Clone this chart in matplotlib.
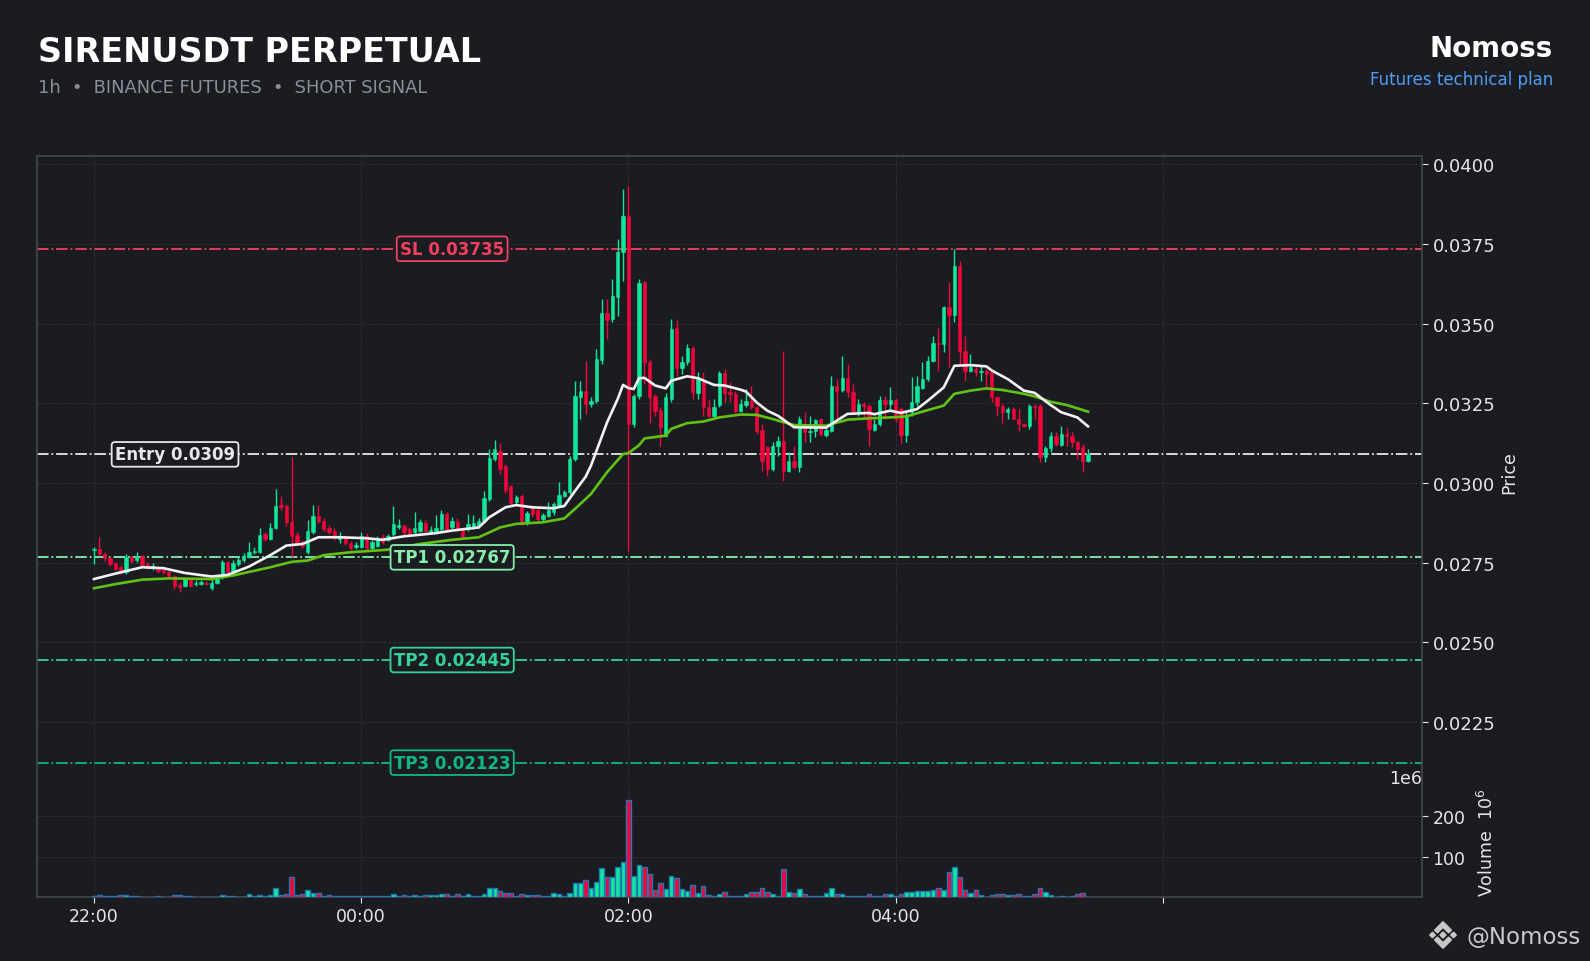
import numpy as np
import pandas as pd
import matplotlib
matplotlib.use('Agg')
import matplotlib.pyplot as plt
import matplotlib.dates as mdates
import matplotlib.ticker as mticker
from matplotlib.patches import Polygon

# ============================================
# Data
# ============================================
open_ = [
    0.02789, 0.02793, 0.02778, 0.02765, 0.02749, 0.02737, 0.02722, 0.02767, 0.02760, 0.02770,
    0.02746, 0.02734, 0.02732, 0.02726, 0.02722, 0.02710, 0.02680, 0.02678, 0.02699, 0.02682,
    0.02683, 0.02688, 0.02672, 0.02687, 0.02704, 0.02751, 0.02722, 0.02745, 0.02758, 0.02768,
    0.02783, 0.02783, 0.02840, 0.02825, 0.02858, 0.02931, 0.02927, 0.02877, 0.02837, 0.02816,
    0.02783, 0.02845, 0.02896, 0.02882, 0.02858, 0.02851, 0.02825, 0.02832, 0.02812, 0.02798,
    0.02798, 0.02835, 0.02795, 0.02804, 0.02830, 0.02822, 0.02840, 0.02861, 0.02866, 0.02856,
    0.02845, 0.02851, 0.02875, 0.02845, 0.02851, 0.02856, 0.02903, 0.02861, 0.02879, 0.02851,
    0.02856, 0.02861, 0.02864, 0.02882, 0.02950, 0.03076, 0.03102, 0.03055, 0.02992, 0.02940,
    0.02958, 0.02875, 0.02924, 0.02917, 0.02887, 0.02898, 0.02908, 0.02929, 0.02960, 0.02971,
    0.03075, 0.03269, 0.03290, 0.03248, 0.03259, 0.03387, 0.03533, 0.03515, 0.03583, 0.03724,
    0.03839, 0.03185, 0.03274, 0.03630, 0.03381, 0.03274, 0.03230, 0.03149, 0.03264, 0.03485,
    0.03360, 0.03379, 0.03423, 0.03283, 0.03316, 0.03240, 0.03211, 0.03245, 0.03346, 0.03285,
    0.03280, 0.03227, 0.03246, 0.03259, 0.03238, 0.03167, 0.03112, 0.03044, 0.03115, 0.03133,
    0.03039, 0.03070, 0.03049, 0.03170, 0.03159, 0.03164, 0.03201, 0.03151, 0.03164, 0.03306,
    0.03292, 0.03329, 0.03285, 0.03224, 0.03248, 0.03243, 0.03167, 0.03185, 0.03262, 0.03248,
    0.03262, 0.03232, 0.03151, 0.03222, 0.03253, 0.03298, 0.03326, 0.03384, 0.03439, 0.03436,
    0.03551, 0.03527, 0.03682, 0.03415, 0.03350, 0.03358, 0.03348, 0.03353, 0.03348, 0.03269,
    0.03243, 0.03222, 0.03232, 0.03201, 0.03185, 0.03180, 0.03243, 0.03243, 0.03081, 0.03109,
    0.03149, 0.03120, 0.03154, 0.03149, 0.03128, 0.03112, 0.03070,
]
high = [
    0.02798, 0.02830, 0.02783, 0.02770, 0.02752, 0.02742, 0.02777, 0.02772, 0.02783, 0.02775,
    0.02752, 0.02748, 0.02738, 0.02732, 0.02725, 0.02712, 0.02690, 0.02705, 0.02705, 0.02695,
    0.02697, 0.02693, 0.02698, 0.02708, 0.02760, 0.02756, 0.02760, 0.02770, 0.02780, 0.02815,
    0.02800, 0.02860, 0.02845, 0.02875, 0.02981, 0.02960, 0.02935, 0.03083, 0.02845, 0.02822,
    0.02885, 0.02930, 0.02930, 0.02890, 0.02868, 0.02858, 0.02848, 0.02838, 0.02818, 0.02815,
    0.02848, 0.02842, 0.02822, 0.02835, 0.02840, 0.02840, 0.02927, 0.02887, 0.02872, 0.02862,
    0.02908, 0.02888, 0.02885, 0.02865, 0.02900, 0.02915, 0.02910, 0.02895, 0.02890, 0.02860,
    0.02903, 0.02900, 0.02890, 0.02975, 0.03107, 0.03136, 0.03126, 0.03060, 0.02995, 0.02962,
    0.02965, 0.02912, 0.02930, 0.02922, 0.02905, 0.02940, 0.02940, 0.03002, 0.02978, 0.03085,
    0.03321, 0.03321, 0.03384, 0.03270, 0.03420, 0.03577, 0.03577, 0.03640, 0.03766, 0.03923,
    0.03933, 0.03278, 0.03640, 0.03635, 0.03390, 0.03280, 0.03240, 0.03284, 0.03515, 0.03510,
    0.03400, 0.03436, 0.03430, 0.03347, 0.03347, 0.03264, 0.03264, 0.03350, 0.03358, 0.03316,
    0.03290, 0.03264, 0.03295, 0.03306, 0.03243, 0.03185, 0.03115, 0.03128, 0.03149, 0.03415,
    0.03096, 0.03117, 0.03210, 0.03222, 0.03211, 0.03201, 0.03205, 0.03172, 0.03336, 0.03326,
    0.03400, 0.03374, 0.03311, 0.03264, 0.03253, 0.03248, 0.03201, 0.03274, 0.03274, 0.03300,
    0.03268, 0.03240, 0.03227, 0.03332, 0.03336, 0.03379, 0.03400, 0.03462, 0.03488, 0.03556,
    0.03630, 0.03734, 0.03698, 0.03462, 0.03405, 0.03374, 0.03368, 0.03358, 0.03352, 0.03274,
    0.03248, 0.03238, 0.03238, 0.03232, 0.03190, 0.03248, 0.03248, 0.03248, 0.03115, 0.03159,
    0.03159, 0.03180, 0.03172, 0.03159, 0.03133, 0.03123, 0.03107,
]
low = [
    0.02746, 0.02775, 0.02757, 0.02741, 0.02727, 0.02716, 0.02715, 0.02750, 0.02751, 0.02740,
    0.02730, 0.02726, 0.02719, 0.02715, 0.02705, 0.02667, 0.02657, 0.02675, 0.02673, 0.02678,
    0.02680, 0.02679, 0.02665, 0.02683, 0.02700, 0.02718, 0.02718, 0.02740, 0.02752, 0.02765,
    0.02778, 0.02780, 0.02818, 0.02820, 0.02855, 0.02915, 0.02866, 0.02767, 0.02805, 0.02795,
    0.02778, 0.02840, 0.02875, 0.02850, 0.02840, 0.02822, 0.02812, 0.02805, 0.02790, 0.02792,
    0.02795, 0.02790, 0.02790, 0.02800, 0.02808, 0.02818, 0.02835, 0.02855, 0.02838, 0.02835,
    0.02840, 0.02846, 0.02845, 0.02840, 0.02846, 0.02850, 0.02850, 0.02856, 0.02850, 0.02825,
    0.02850, 0.02856, 0.02860, 0.02878, 0.02945, 0.03070, 0.03030, 0.02970, 0.02930, 0.02935,
    0.02870, 0.02868, 0.02895, 0.02880, 0.02880, 0.02893, 0.02900, 0.02925, 0.02955, 0.02965,
    0.03070, 0.03201, 0.03217, 0.03240, 0.03250, 0.03374, 0.03452, 0.03505, 0.03525, 0.03635,
    0.02788, 0.03175, 0.03265, 0.03310, 0.03190, 0.03211, 0.03117, 0.03143, 0.03255, 0.03337,
    0.03342, 0.03370, 0.03264, 0.03264, 0.03211, 0.03206, 0.03206, 0.03240, 0.03253, 0.03253,
    0.03220, 0.03222, 0.03238, 0.03232, 0.03154, 0.03039, 0.03023, 0.03039, 0.03086, 0.03008,
    0.03034, 0.03044, 0.03034, 0.03128, 0.03128, 0.03143, 0.03149, 0.03146, 0.03160, 0.03191,
    0.03285, 0.03269, 0.03222, 0.03211, 0.03201, 0.03117, 0.03164, 0.03180, 0.03201, 0.03232,
    0.03191, 0.03123, 0.03128, 0.03211, 0.03243, 0.03295, 0.03321, 0.03379, 0.03353, 0.03410,
    0.03363, 0.03504, 0.03374, 0.03321, 0.03348, 0.03337, 0.03321, 0.03295, 0.03253, 0.03211,
    0.03185, 0.03201, 0.03201, 0.03164, 0.03175, 0.03170, 0.03201, 0.03065, 0.03065, 0.03096,
    0.03117, 0.03117, 0.03117, 0.03112, 0.03076, 0.03034, 0.03065,
]
close = [
    0.02792, 0.02778, 0.02765, 0.02747, 0.02731, 0.02724, 0.02767, 0.02757, 0.02770, 0.02744,
    0.02736, 0.02740, 0.02724, 0.02721, 0.02709, 0.02676, 0.02673, 0.02698, 0.02677, 0.02686,
    0.02690, 0.02684, 0.02687, 0.02704, 0.02751, 0.02722, 0.02748, 0.02760, 0.02770, 0.02785,
    0.02788, 0.02837, 0.02825, 0.02858, 0.02927, 0.02924, 0.02877, 0.02835, 0.02812, 0.02804,
    0.02851, 0.02896, 0.02882, 0.02856, 0.02845, 0.02830, 0.02835, 0.02812, 0.02795, 0.02806,
    0.02833, 0.02795, 0.02814, 0.02825, 0.02814, 0.02833, 0.02872, 0.02868, 0.02845, 0.02840,
    0.02858, 0.02877, 0.02851, 0.02854, 0.02858, 0.02903, 0.02856, 0.02882, 0.02856, 0.02830,
    0.02872, 0.02875, 0.02882, 0.02952, 0.03078, 0.03107, 0.03044, 0.02979, 0.02937, 0.02955,
    0.02877, 0.02906, 0.02903, 0.02887, 0.02900, 0.02914, 0.02935, 0.02963, 0.02973, 0.03075,
    0.03274, 0.03290, 0.03248, 0.03259, 0.03389, 0.03533, 0.03513, 0.03588, 0.03726, 0.03839,
    0.03185, 0.03274, 0.03628, 0.03381, 0.03269, 0.03227, 0.03175, 0.03269, 0.03483, 0.03360,
    0.03379, 0.03423, 0.03285, 0.03326, 0.03238, 0.03211, 0.03240, 0.03346, 0.03283, 0.03280,
    0.03227, 0.03248, 0.03259, 0.03238, 0.03164, 0.03070, 0.03044, 0.03117, 0.03133, 0.03039,
    0.03070, 0.03049, 0.03201, 0.03159, 0.03164, 0.03198, 0.03154, 0.03167, 0.03306, 0.03290,
    0.03329, 0.03285, 0.03227, 0.03248, 0.03243, 0.03170, 0.03185, 0.03262, 0.03248, 0.03262,
    0.03201, 0.03151, 0.03206, 0.03253, 0.03306, 0.03326, 0.03384, 0.03439, 0.03436, 0.03551,
    0.03527, 0.03682, 0.03415, 0.03350, 0.03363, 0.03348, 0.03350, 0.03342, 0.03269, 0.03243,
    0.03222, 0.03232, 0.03201, 0.03185, 0.03180, 0.03243, 0.03238, 0.03081, 0.03109, 0.03149,
    0.03123, 0.03154, 0.03149, 0.03128, 0.03107, 0.03070, 0.03091,
]
# volume in millions
volume_m = [
    2.5, 5.7, 1.5, 2.5, 2.5, 5.7, 5.7, 1.6, 2.5, 0.8,
    0.8, 0.8, 3.3, 1.0, 1.0, 5.7, 5.7, 2.5, 2.5, 0.8,
    0.8, 0.8, 0.8, 0.8, 5.7, 2.5, 2.5, 0.8, 0.8, 7.4,
    2.5, 5.7, 2.5, 5.7, 22, 5.7, 8.2, 49, 5.7, 7.4,
    17, 10, 10, 3.3, 5.7, 2.5, 2.5, 2.5, 1.6, 1.6,
    2.5, 1.6, 1.6, 2.5, 2.5, 2.5, 7.4, 1.6, 4.9, 2.5,
    4.9, 2.5, 4.9, 4.9, 4.9, 7.4, 7.4, 2.5, 7.4, 2.5,
    7.4, 2.5, 2.5, 7.4, 22, 22, 15.6, 10, 10, 2.5,
    7.4, 4.9, 4.9, 4.9, 2.5, 2.5, 10, 7.4, 2.5, 10,
    34, 34, 42.5, 21.7, 36.7, 71.7, 49.2, 49.2, 74.2, 86.7,
    239, 51.7, 79, 74, 56.7, 16.7, 34, 19, 51.7, 46.7,
    19, 14, 29, 10.8, 26.7, 5.8, 3.3, 6.7, 11.7, 1.7,
    1.7, 3.3, 6.7, 11.7, 11.7, 21.7, 11.7, 6.7, 3.3, 69,
    11.7, 9, 19, 6.7, 3.3, 3.3, 3.3, 9, 21.7, 6.7,
    6.7, 3.3, 3.3, 3.3, 1.7, 6.7, 3.3, 1.7, 6.7, 6.7,
    3.3, 6.7, 11.7, 11.7, 14, 14, 14, 16.7, 21.7, 16.7,
    61.7, 74, 49, 16.7, 9, 16.7, 4, 1, 4, 6.7,
    6.7, 4, 4, 6.7, 1.7, 1.7, 6.7, 21.7, 11.7, 4,
    0.5, 1.7, 1, 1.7, 6.7, 9, 0.8,
]

# moving averages, sampled at candle indices
ma_fast_idx = [0, 4, 9, 13, 17, 22, 25, 29, 33, 36, 39, 42, 46, 51, 54, 58, 64, 67, 72, 74,
               77, 79, 82, 86, 88, 90, 92, 93, 96, 98, 99, 100, 101, 102, 103, 105, 107, 108, 111, 113,
               116, 118, 121, 122, 124, 126, 128, 131, 137, 139, 141, 145, 146, 149, 151, 154, 156, 159, 161, 164,
               167, 168, 171, 174, 176, 179, 181, 184, 186]
ma_fast = [0.02699, 0.02716, 0.02736, 0.02733, 0.02718, 0.02707, 0.02712, 0.02738, 0.02774, 0.02804,
           0.02809, 0.02830, 0.02830, 0.02827, 0.02822, 0.02833, 0.02843, 0.02851, 0.02861, 0.02893,
           0.02924, 0.02931, 0.02924, 0.02921, 0.02928, 0.02975, 0.03020, 0.03055, 0.03190, 0.03264,
           0.03308, 0.03298, 0.03295, 0.03329, 0.03330, 0.03306, 0.03297, 0.03321, 0.03335, 0.03329,
           0.03308, 0.03306, 0.03293, 0.03287, 0.03253, 0.03227, 0.03211, 0.03175, 0.03174, 0.03196,
           0.03217, 0.03220, 0.03216, 0.03227, 0.03220, 0.03232, 0.03258, 0.03300, 0.03368, 0.03370,
           0.03366, 0.03353, 0.03326, 0.03290, 0.03283, 0.03245, 0.03222, 0.03206, 0.03178]
ma_slow_idx = [0, 4, 9, 14, 22, 26, 33, 37, 40, 43, 48, 55, 61, 67, 72, 76, 79, 84, 88, 90,
               93, 96, 99, 100, 102, 103, 107, 108, 111, 114, 117, 121, 124, 127, 129, 131, 137, 141, 145, 149,
               152, 155, 159, 161, 164, 167, 170, 174, 176, 179, 182, 186]
ma_slow = [0.02670, 0.02683, 0.02697, 0.02701, 0.02699, 0.02710, 0.02736, 0.02753, 0.02757, 0.02774,
           0.02783, 0.02791, 0.02809, 0.02822, 0.02830, 0.02861, 0.02872, 0.02877, 0.02889, 0.02919,
           0.02966, 0.03034, 0.03091, 0.03094, 0.03119, 0.03140, 0.03149, 0.03170, 0.03188, 0.03193,
           0.03206, 0.03215, 0.03214, 0.03201, 0.03191, 0.03182, 0.03180, 0.03199, 0.03203, 0.03206,
           0.03209, 0.03224, 0.03243, 0.03280, 0.03290, 0.03297, 0.03292, 0.03280, 0.03272, 0.03255,
           0.03245, 0.03224]

level_names = ['SL', 'Entry', 'TP1', 'TP2', 'TP3']
level_prices = [0.03735, 0.0309, 0.02767, 0.02445, 0.02123]

price_ticks = [0.0225, 0.0250, 0.0275, 0.0300, 0.0325, 0.0350, 0.0375, 0.0400]
volume_ticks_m = [100, 200]
time_ticks = ['2024-05-01 22:00', '2024-05-02 00:00', '2024-05-02 02:00',
              '2024-05-02 04:00', '2024-05-02 06:00']
time_tick_labels = ['22:00', '00:00', '02:00', '04:00', '']

# ============================================
# Styling
# ============================================
BG = '#1b1c21'
UP = '#12e69c'
DOWN = '#f0063a'
SPINE = '#44474e'
GRID = '#2b2e35'
TICK = '#e6e6e6'
level_colors = {'SL': '#f43f5e', 'Entry': '#e5e7eb', 'TP1': '#86efac',
                'TP2': '#34d399', 'TP3': '#10b981'}
level_label_x = {'SL': 0.30, 'Entry': 0.10, 'TP1': 0.30, 'TP2': 0.30, 'TP3': 0.30}

plt.rcParams['font.family'] = 'DejaVu Sans'

# time axis: one candle every 144 s starting at 22:00
times = pd.date_range('2024-05-01 22:00', periods=len(close), freq='144s')
x = mdates.date2num(times.to_pydatetime())
step = x[1] - x[0]

o = np.array(open_)
h = np.array(high)
l = np.array(low)
c = np.array(close)
vol = np.array(volume_m) * 1e6
up = c >= o
colors = np.where(up, UP, DOWN)

fig = plt.figure(figsize=(15.9, 9.62), dpi=100, facecolor=BG)
ax = fig.add_axes([0.02296, 0.18087, 0.87138, 0.65593])
axv = fig.add_axes([0.02296, 0.06653, 0.87138, 0.11434], sharex=ax)

for a in (ax, axv):
    a.set_facecolor(BG)
    for s in a.spines.values():
        s.set_color(SPINE)
        s.set_linewidth(1.2)
    a.yaxis.tick_right()
    a.yaxis.set_label_position('right')
    a.grid(True, color=GRID, ls='--', lw=0.7)
    a.set_axisbelow(True)
    a.tick_params(colors=TICK, labelsize=12.5, length=4, width=0.8)
ax.spines['bottom'].set_visible(False)
axv.spines['top'].set_visible(False)

# candles
ax.vlines(x, np.minimum(l, np.minimum(o, c)), np.maximum(h, np.maximum(o, c)),
          colors=colors, linewidth=1.0, zorder=3)
body_h = np.maximum(np.abs(c - o), 0.000025)
ax.bar(x, body_h, width=0.62 * step, bottom=np.minimum(o, c), color=colors,
       edgecolor=colors, linewidth=0.4, zorder=4)

# moving averages
ax.plot(x[ma_slow_idx], ma_slow, color='#62c214', lw=1.9, zorder=5)
ax.plot(x[ma_fast_idx], ma_fast, color='#f2f2f2', lw=1.9, zorder=6)

# levels
for name, price in zip(level_names, level_prices):
    col = level_colors[name]
    ax.axhline(price, color=col, ls='-.', lw=1.3, zorder=2)
    ax.text(level_label_x[name], price, f'{name} {price}', transform=ax.get_yaxis_transform(),
            ha='center', va='center', color=col, fontsize=12, fontweight='bold', zorder=7,
            bbox=dict(boxstyle='round,pad=0.2', fc=BG, ec=col, lw=1.3))

ax.set_ylim(0.020466, 0.04026)
ax.set_yticks(price_ticks)
ax.yaxis.set_major_formatter(mticker.FormatStrFormatter('%.4f'))
ax.tick_params(axis='y', labelsize=13)
ax.tick_params(axis='x', bottom=False, labelbottom=False)
ax.set_ylabel('Price', color=TICK, fontsize=12.5, labelpad=4)

# volume
axv.bar(x, vol, width=0.85 * step, color=colors, edgecolor='#1f77b4', linewidth=1.0, zorder=3)
axv.set_ylim(0, 272e6)
axv.set_yticks([v * 1e6 for v in volume_ticks_m])
fmt = mticker.ScalarFormatter()
fmt.set_powerlimits((6, 6))
axv.yaxis.set_major_formatter(fmt)
axv.yaxis.get_offset_text().set_color(TICK)
axv.yaxis.get_offset_text().set_fontsize(12.5)
axv.set_ylabel('Volume  $10^{6}$', color=TICK, fontsize=12.5, labelpad=8)

tick_pos = mdates.date2num(pd.to_datetime(time_ticks).to_pydatetime())
axv.set_xticks(tick_pos)
axv.set_xticklabels(time_tick_labels)
axv.set_xlim(x[0] - 10.76 * step, x[0] + 248.5 * step)

# header
fig.text(0.0242, 0.9356, 'SIRENUSDT PERPETUAL', color='white', fontsize=24, fontweight='bold',
         va='baseline', ha='left')
fig.text(0.0242, 0.9033, '1h  \u2022  BINANCE FUTURES  \u2022  SHORT SIGNAL', color='#8b8f98',
         fontsize=12.9, va='baseline', ha='left')
fig.text(0.9768, 0.9407, 'Nomoss', color='white', fontsize=20, fontweight='bold',
         va='baseline', ha='right')
fig.text(0.9768, 0.9116, 'Futures technical plan', color='#4f9df0', fontsize=12,
         va='baseline', ha='right')

# watermark
fig.text(0.9943, 0.0187, '@Nomoss', color='#c8c8c8', fontsize=16.5, va='baseline', ha='right')
lax = fig.add_axes([1429 / 1590, 12 / 962, 28 / 1590, 28 / 962])
lax.set_xlim(-1, 1)
lax.set_ylim(-1, 1)
lax.axis('off')


def diamond(cx, cy, r):
    return [(cx, cy + r), (cx + r, cy), (cx, cy - r), (cx - r, cy)]


logo = [diamond(0, 0, 0.22), diamond(-0.75, 0, 0.2), diamond(0.75, 0, 0.2),
        [(-0.6, 0.35), (0, 0.95), (0.6, 0.35), (0.4, 0.15), (0, 0.55), (-0.4, 0.15)],
        [(-0.6, -0.35), (0, -0.95), (0.6, -0.35), (0.4, -0.15), (0, -0.55), (-0.4, -0.15)]]
for shp in logo:
    lax.add_patch(Polygon(shp, closed=True, color='#c8c8c8'))

fig.savefig('out.png', dpi=100, facecolor=BG)
